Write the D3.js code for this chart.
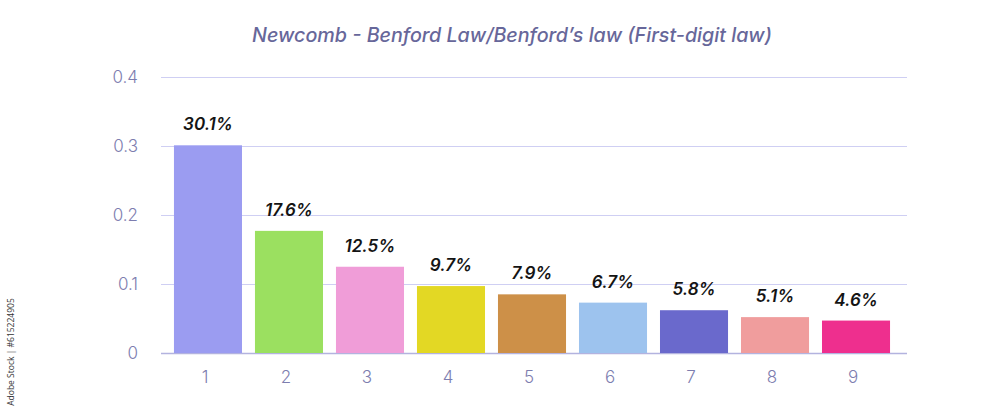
<!DOCTYPE html>
<html>
<head>
<meta charset="utf-8">
<script src="https://cdn.jsdelivr.net/npm/d3@7"></script>
<style>
  html, body { margin: 0; padding: 0; background: #ffffff; }
  svg { display: block; }
</style>
</head>
<body>
<svg id="chart" width="1000" height="417"></svg>
<script>
const categories = ["1", "2", "3", "4", "5", "6", "7", "8", "9"];
const barValues = [0.301, 0.177, 0.125, 0.097, 0.085, 0.073, 0.062, 0.052, 0.047];
const valueLabels = ["30.1%", "17.6%", "12.5%", "9.7%", "7.9%", "6.7%", "5.8%", "5.1%", "4.6%"];
const barColors = ["#9b9cf1", "#9be060", "#f09dd8", "#e3d824", "#cd9048", "#9dc3ee", "#6a69cc", "#f09d9d", "#ee2f8e"];
const yTicks = [0, 0.1, 0.2, 0.3, 0.4];
const yTickLabels = ["0", "0.1", "0.2", "0.3", "0.4"];
const titleText = "Newcomb - Benford Law/Benford\u2019s law (First-digit law)";

const svg = d3.select("#chart");
const gridLeft = 161, gridRight = 907;

const x = d3.scaleBand()
  .domain(categories)
  .range([161, 903])
  .paddingInner(0.16)
  .paddingOuter(0.16);

const y = d3.scaleLinear().domain([0, 0.4]).range([353, 77]);

// Title
svg.append("text")
  .attr("x", 512)
  .attr("y", 42)
  .attr("text-anchor", "middle")
  .attr("font-family", "Inter, 'Noto Sans', sans-serif")
  .attr("font-style", "italic")
  .attr("font-weight", 500)
  .attr("font-size", 19.7)
  .attr("fill", "#67679a")
  .text(titleText);

// Gridlines
svg.append("g")
  .selectAll("line")
  .data(yTicks)
  .join("line")
  .attr("x1", gridLeft)
  .attr("x2", gridRight)
  .attr("y1", d => Math.round(y(d)) + 0.5)
  .attr("y2", d => Math.round(y(d)) + 0.5)
  .attr("stroke", d => d === 0 ? "#b3b3df" : "#cfcff3")
  .attr("stroke-width", d => d === 0 ? 1.5 : 1);

// Y axis labels
const yAxis = d3.axisLeft(y)
  .tickValues(yTicks)
  .tickFormat((d, i) => yTickLabels[i])
  .tickSize(0)
  .tickPadding(0);
const yg = svg.append("g")
  .attr("transform", `translate(138,0)`)
  .call(yAxis);
yg.select(".domain").remove();
yg.selectAll("text")
  .attr("font-family", "Inter, 'Noto Sans', sans-serif")
  .attr("font-weight", 300)
  .attr("font-size", 17)
  .attr("fill", "#7d7daf");

// Bars
svg.append("g")
  .selectAll("rect")
  .data(categories)
  .join("rect")
  .attr("x", d => x(d))
  .attr("width", x.bandwidth())
  .attr("y", (d, i) => y(barValues[i]))
  .attr("height", (d, i) => y(0) - y(barValues[i]))
  .attr("fill", (d, i) => barColors[i]);

// Value labels
svg.append("g")
  .selectAll("text")
  .data(categories)
  .join("text")
  .attr("x", d => x(d) + x.bandwidth() / 2)
  .attr("y", (d, i) => y(barValues[i]) - 15)
  .attr("text-anchor", "middle")
  .attr("font-family", "Inter, 'Noto Sans', sans-serif")
  .attr("font-style", "italic")
  .attr("font-weight", 600)
  .attr("font-size", 17)
  .attr("fill", "#141414")
  .text((d, i) => valueLabels[i]);

// X axis labels
const xAxis = d3.axisBottom(x).tickSize(0).tickPadding(0);
const xg = svg.append("g")
  .attr("transform", `translate(-3,371)`)
  .call(xAxis);
xg.select(".domain").remove();
xg.selectAll("text")
  .attr("dy", "0.71em")
  .attr("font-family", "Inter, 'Noto Sans', sans-serif")
  .attr("font-weight", 300)
  .attr("font-size", 17)
  .attr("fill", "#7d7daf");

// Side credit text
svg.append("text")
  .attr("transform", "translate(14,352) rotate(-90)")
  .attr("text-anchor", "middle")
  .attr("font-family", "'Open Sans', sans-serif")
  .attr("font-size", 8.5)
  .attr("fill", "#333")
  .text("Adobe Stock | #615224905");
</script>
</body>
</html>
